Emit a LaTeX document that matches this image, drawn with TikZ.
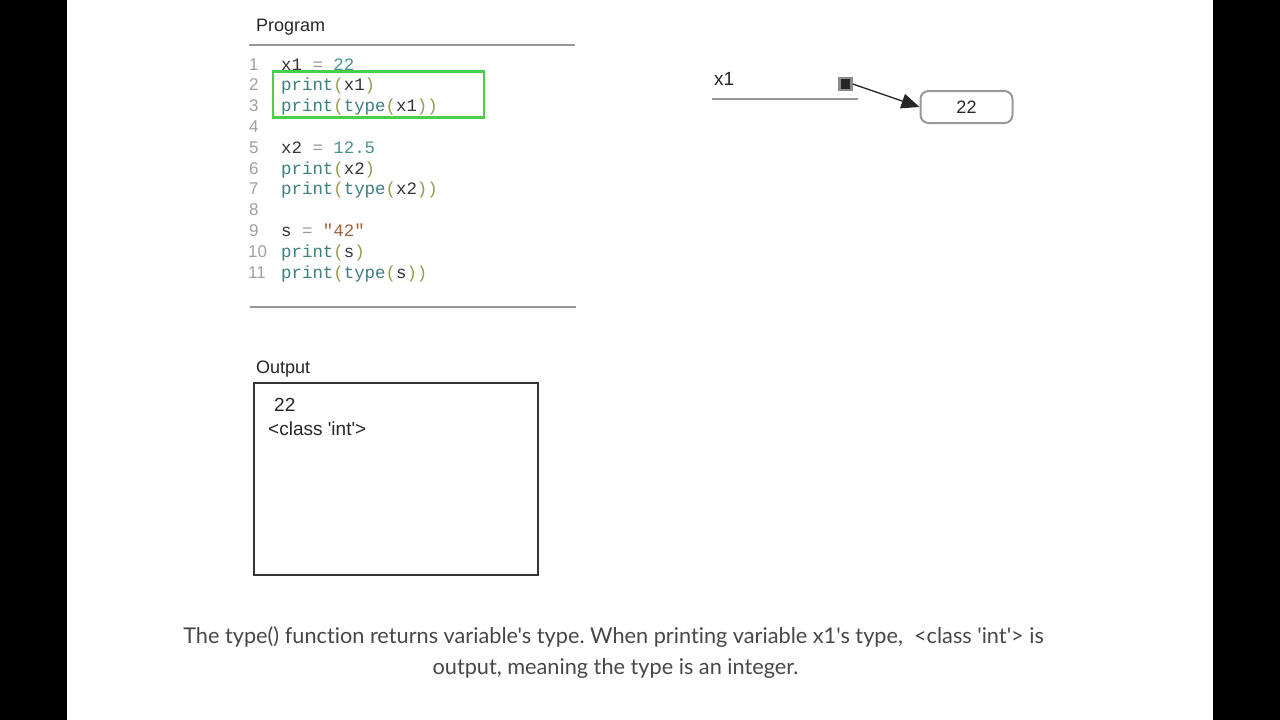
\documentclass[tikz,border=0pt]{standalone}
\usepackage{fontspec}
\usetikzlibrary{arrows.meta}
\newfontfamily\labfont{Liberation Sans}
\newfontfamily\codefont{Liberation Mono}
\newfontfamily\capfont{Lato}[Ligatures=NoCommon]
\definecolor{ckw}{HTML}{3D7E7E}
\definecolor{cpar}{HTML}{9A9A50}
\definecolor{cid}{HTML}{333333}
\definecolor{cop}{HTML}{999999}
\definecolor{cnum}{HTML}{4A9292}
\definecolor{cstr}{HTML}{A0603A}
\definecolor{lnum}{HTML}{A0A0A0}
\definecolor{hlgreen}{HTML}{48CE48}
\newcommand\Ckw[1]{\textcolor{ckw}{#1}}
\newcommand\Cpar[1]{\textcolor{cpar}{#1}}
\newcommand\Cid[1]{\textcolor{cid}{#1}}
\newcommand\Cop[1]{\textcolor{cop}{#1}}
\newcommand\Cnum[1]{\textcolor{cnum}{#1}}
\newcommand\Cstr[1]{\textcolor{cstr}{#1}}
\frenchspacing
\begin{document}
\begin{tikzpicture}[x=1pt,y=-1pt,
  lab/.style={font=\labfont\fontsize{18}{20}\selectfont, text=black!85, inner sep=0pt, anchor=base west},
  lno/.style={font=\labfont\fontsize{17}{20}\selectfont, text=lnum, inner sep=0pt, anchor=base west},
  code/.style={font=\codefont\fontsize{17.4}{20}\selectfont, inner sep=0pt, anchor=base west},
  outtxt/.style={font=\labfont\fontsize{19}{22}\selectfont, text=black!85, inner sep=0pt, anchor=base west},
  captxt/.style={font=\capfont\fontsize{21.7}{26}\selectfont, text=black!72, inner sep=0pt, anchor=base},
  rule/.style={draw=black!40, line width=1.2pt},
]
\useasboundingbox (0,0) rectangle (1280,720);
\fill[black] (0,0) rectangle (1280,720);
\fill[white] (67,0) rectangle (1213,720);

% Program panel
\node[lab] (proglab) at (256,31) {Program};
\coordinate (r1a) at (249,45); \coordinate (r1b) at (575,45);
\draw[rule] (r1a) -- (r1b);
\coordinate (r2a) at (250,307); \coordinate (r2b) at (576,307);
\draw[rule] (r2a) -- (r2b);

\foreach \i in {1,...,9} {
  \node[lno] (ln\i) at (249,{70+(\i-1)*20.8}) {\i};
}
\node[lno] (ln10) at (248,{70+9*20.8}) {10};
\node[lno] (ln11) at (248,{70+10*20.8}) {11};

\node[code] (c1) at (281,70) {\Cid{x1} \Cop{=} \Cnum{22}};
\node[code] (c2) at (281,90.8) {\Ckw{print}\Cpar{(}\Cid{x1}\Cpar{)}};
\node[code] (c3) at (281,111.6) {\Ckw{print}\Cpar{(}\Ckw{type}\Cpar{(}\Cid{x1}\Cpar{))}};
\node[code] (c5) at (281,153.2) {\Cid{x2} \Cop{=} \Cnum{12.5}};
\node[code] (c6) at (281,174) {\Ckw{print}\Cpar{(}\Cid{x2}\Cpar{)}};
\node[code] (c7) at (281,194.8) {\Ckw{print}\Cpar{(}\Ckw{type}\Cpar{(}\Cid{x2}\Cpar{))}};
\node[code] (c9) at (281,236.4) {\Cid{s} \Cop{=} \Cstr{"42"}};
\node[code] (c10) at (281,257.2) {\Ckw{print}\Cpar{(}\Cid{s}\Cpar{)}};
\node[code] (c11) at (281,278) {\Ckw{print}\Cpar{(}\Ckw{type}\Cpar{(}\Cid{s}\Cpar{))}};

\draw[hlgreen, line width=2.5pt] (273,71.5) rectangle (484,117.5);

% Output panel
\node[lab] (outlab) at (256,373) {Output};
\draw[black!80, line width=2.5pt] (254,383) rectangle (538,575);
\node[outtxt] (o1) at (274,411) {22};
\node[outtxt] (o2) at (268,435) {<class 'int'>};

% Variable x1
\node[outtxt] (x1lab) at (714,85) {x1};
\coordinate (r3a) at (712,99); \coordinate (r3b) at (858,99);
\draw[rule] (r3a) -- (r3b);
\node[draw=black!45, fill=black!85, line width=2.5pt, minimum size=12pt, inner sep=0pt] (sq) at (845.5,84) {};
\node[draw=black!40, line width=2pt, rounded corners=8pt, minimum width=92pt, minimum height=32pt, inner sep=0pt,
      font=\labfont\fontsize{18}{22}\selectfont, text=black!85] (val) at (966.5,107) {22};
\draw[black!85, line width=1.3pt, -{Triangle[length=18pt,width=15pt]}] (sq.east) -- (val.west);

% Caption
\node[captxt] (cap1) at (613.5,643) {The type() function returns variable's type. When printing variable x1's type,\ \ <class 'int'> is};
\node[captxt] (cap2) at (615.5,674) {output, meaning the type is an integer.};
\end{tikzpicture}
\end{document}
